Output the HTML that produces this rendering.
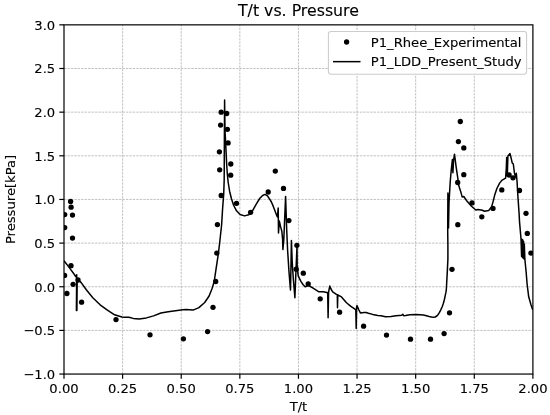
<!DOCTYPE html>
<html><head><meta charset="utf-8"><title>T/t vs. Pressure</title>
<style>
html,body{margin:0;padding:0;background:#fff;}
svg{display:block;}
text{font-family:"DejaVu Sans", "Liberation Sans", sans-serif;fill:#000;stroke:#000;stroke-width:0.12px;}
</style></head>
<body>
<svg width="550" height="415" viewBox="0 0 550 415">
<rect width="550" height="415" fill="#fff"/>
<g stroke="#a8a8a8" stroke-width="0.7" stroke-dasharray="2.4,1.04" fill="none">
<line x1="122.61" y1="374.05" x2="122.61" y2="24.85"/>
<line x1="181.22" y1="374.05" x2="181.22" y2="24.85"/>
<line x1="239.84" y1="374.05" x2="239.84" y2="24.85"/>
<line x1="298.45" y1="374.05" x2="298.45" y2="24.85"/>
<line x1="357.06" y1="374.05" x2="357.06" y2="24.85"/>
<line x1="415.67" y1="374.05" x2="415.67" y2="24.85"/>
<line x1="474.29" y1="374.05" x2="474.29" y2="24.85"/>
<line x1="64.00" y1="330.40" x2="532.90" y2="330.40"/>
<line x1="64.00" y1="286.75" x2="532.90" y2="286.75"/>
<line x1="64.00" y1="243.10" x2="532.90" y2="243.10"/>
<line x1="64.00" y1="199.45" x2="532.90" y2="199.45"/>
<line x1="64.00" y1="155.80" x2="532.90" y2="155.80"/>
<line x1="64.00" y1="112.15" x2="532.90" y2="112.15"/>
<line x1="64.00" y1="68.50" x2="532.90" y2="68.50"/>
</g>
<clipPath id="c"><rect x="64.00" y="24.85" width="468.90" height="349.20"/></clipPath>
<g clip-path="url(#c)">
<g fill="#000">
<circle cx="70.6" cy="201.5" r="2.65"/>
<circle cx="71.1" cy="207.2" r="2.65"/>
<circle cx="64.7" cy="214.6" r="2.65"/>
<circle cx="72.5" cy="215.1" r="2.65"/>
<circle cx="64.7" cy="227.6" r="2.65"/>
<circle cx="72.5" cy="238.1" r="2.65"/>
<circle cx="71.0" cy="265.7" r="2.65"/>
<circle cx="64.6" cy="275.4" r="2.65"/>
<circle cx="73.1" cy="284.3" r="2.65"/>
<circle cx="78.0" cy="280.0" r="2.65"/>
<circle cx="66.9" cy="293.5" r="2.65"/>
<circle cx="81.6" cy="302.2" r="2.65"/>
<circle cx="116.0" cy="319.6" r="2.65"/>
<circle cx="150.0" cy="334.8" r="2.65"/>
<circle cx="183.4" cy="338.8" r="2.65"/>
<circle cx="207.6" cy="331.6" r="2.65"/>
<circle cx="213.0" cy="307.3" r="2.65"/>
<circle cx="215.7" cy="281.5" r="2.65"/>
<circle cx="216.8" cy="253.1" r="2.65"/>
<circle cx="217.4" cy="224.6" r="2.65"/>
<circle cx="221.2" cy="195.5" r="2.65"/>
<circle cx="219.7" cy="169.8" r="2.65"/>
<circle cx="219.4" cy="151.8" r="2.65"/>
<circle cx="220.6" cy="125.1" r="2.65"/>
<circle cx="221.2" cy="112.2" r="2.65"/>
<circle cx="226.7" cy="113.5" r="2.65"/>
<circle cx="227.4" cy="129.3" r="2.65"/>
<circle cx="228.1" cy="142.9" r="2.65"/>
<circle cx="230.8" cy="164.0" r="2.65"/>
<circle cx="230.7" cy="175.2" r="2.65"/>
<circle cx="236.5" cy="203.3" r="2.65"/>
<circle cx="250.6" cy="212.3" r="2.65"/>
<circle cx="268.2" cy="192.0" r="2.65"/>
<circle cx="275.3" cy="171.1" r="2.65"/>
<circle cx="283.5" cy="188.4" r="2.65"/>
<circle cx="288.9" cy="220.6" r="2.65"/>
<circle cx="296.9" cy="245.3" r="2.65"/>
<circle cx="296.2" cy="269.2" r="2.65"/>
<circle cx="303.3" cy="273.2" r="2.65"/>
<circle cx="308.2" cy="283.8" r="2.65"/>
<circle cx="320.2" cy="298.8" r="2.65"/>
<circle cx="339.6" cy="312.2" r="2.65"/>
<circle cx="363.6" cy="326.2" r="2.65"/>
<circle cx="386.5" cy="335.1" r="2.65"/>
<circle cx="410.5" cy="339.2" r="2.65"/>
<circle cx="430.5" cy="339.2" r="2.65"/>
<circle cx="444.1" cy="333.6" r="2.65"/>
<circle cx="449.5" cy="312.8" r="2.65"/>
<circle cx="452.0" cy="269.3" r="2.65"/>
<circle cx="457.8" cy="224.7" r="2.65"/>
<circle cx="457.7" cy="182.5" r="2.65"/>
<circle cx="463.8" cy="174.7" r="2.65"/>
<circle cx="463.8" cy="147.9" r="2.65"/>
<circle cx="458.4" cy="141.6" r="2.65"/>
<circle cx="460.3" cy="121.5" r="2.65"/>
<circle cx="472.0" cy="202.9" r="2.65"/>
<circle cx="481.8" cy="216.8" r="2.65"/>
<circle cx="493.0" cy="208.4" r="2.65"/>
<circle cx="501.8" cy="189.9" r="2.65"/>
<circle cx="509.1" cy="175.0" r="2.65"/>
<circle cx="513.0" cy="177.8" r="2.65"/>
<circle cx="519.5" cy="190.5" r="2.65"/>
<circle cx="526.0" cy="213.3" r="2.65"/>
<circle cx="527.3" cy="233.4" r="2.65"/>
<circle cx="530.9" cy="253.1" r="2.65"/>
</g>
<polyline fill="none" stroke="#000" stroke-width="1.5" stroke-linejoin="round" stroke-linecap="butt" points="64.0,260.8 69.5,267.9 74.0,274.0 75.9,276.8 76.7,274.8 76.4,310.6 76.9,310.6 77.2,278.8 81.2,282.6 86.3,289.8 92.8,297.7 100.1,304.8 107.4,310.2 114.6,314.8 121.9,317.0 124.5,317.3 128.9,317.2 133.3,318.4 139.1,319.1 146.4,317.9 153.6,315.9 160.9,313.0 168.2,311.8 175.5,310.7 182.7,309.8 185.8,309.5 193.1,310.1 198.9,307.6 204.7,302.5 209.1,296.0 212.0,288.7 214.2,281.5 216.1,268.6 218.3,254.1 219.7,242.5 221.6,225.0 222.6,208.6 223.7,194.1 224.2,179.5 224.3,155.0 224.6,100.1 225.0,130.0 226.0,150.0 226.7,165.0 227.3,173.7 228.2,182.5 229.6,191.2 231.4,198.5 233.5,205.0 236.5,210.8 240.1,214.5 244.5,215.9 248.8,214.7 252.5,210.8 256.1,204.3 259.7,198.5 262.6,195.5 265.0,194.4 267.5,195.8 269.8,199.4 271.4,202.0 273.1,205.9 275.8,213.1 277.4,217.0 278.2,208.1 278.5,233.0 279.3,221.0 280.8,227.6 281.8,231.0 282.6,239.1 282.9,249.6 283.8,240.0 285.6,196.5 286.7,230.0 287.6,250.0 289.0,272.0 290.5,290.1 291.0,265.0 291.4,240.4 292.2,262.0 293.4,280.0 294.9,297.7 295.8,275.0 297.0,246.0 297.2,266.0 298.2,275.9 300.9,281.4 303.0,284.5 305.1,286.7 308.7,285.5 313.1,288.2 318.9,291.8 323.3,291.8 326.9,292.5 327.7,293.0 328.1,317.7 328.6,292.0 329.8,286.0 331.0,289.0 332.7,291.8 336.4,294.4 337.3,294.8 337.5,307.8 337.8,295.0 341.5,296.9 346.5,302.7 350.9,306.4 355.3,309.3 355.8,309.6 356.2,328.5 356.6,307.0 357.0,305.6 358.9,310.0 360.4,312.9 364.0,312.5 366.2,312.5 368.4,313.2 372.7,314.4 377.8,315.5 381.0,315.8 385.5,316.7 391.0,316.4 396.0,315.7 401.8,315.2 402.9,314.3 403.7,315.7 405.5,315.5 410.0,314.7 416.0,314.5 420.0,314.7 423.3,315.1 426.5,315.8 429.1,316.5 431.5,317.0 433.5,317.3 435.2,317.0 436.8,316.0 438.2,314.4 439.5,312.3 440.9,309.6 442.2,306.7 443.4,303.2 444.4,299.5 445.8,292.9 446.3,290.0 447.2,273.6 447.9,259.1 447.9,244.5 447.7,230.0 447.9,193.0 448.5,228.0 449.0,203.0 450.2,182.0 451.3,169.5 452.4,159.6 452.9,172.7 453.6,160.0 454.5,154.2 456.2,167.3 457.8,178.2 458.6,185.0 460.5,190.9 462.2,196.9 463.8,196.5 467.1,201.3 471.5,206.2 475.8,210.0 478.0,209.5 482.4,210.3 484.4,211.2 488.7,210.4 491.5,207.1 493.1,201.6 494.7,195.1 496.9,188.5 499.6,183.1 501.8,180.4 505.6,178.2 506.3,168.0 506.7,157.5 507.3,176.0 507.9,156.0 510.0,153.6 511.1,158.0 512.2,162.9 513.3,164.0 514.4,172.7 515.5,177.1 516.3,173.3 517.1,182.0 517.6,191.8 518.2,200.5 519.1,213.6 519.5,221.4 521.0,238.8 521.6,256.5 521.9,239.3 522.5,257.5 522.8,240.0 523.4,258.5 523.6,241.5 524.2,259.0 524.3,244.0 524.9,259.5 526.2,272.7 527.1,284.0 528.7,296.8 530.9,304.5 532.8,309.9"/>
</g>
<g stroke="#000" stroke-width="1.2">
<line x1="64.00" y1="374.05" x2="64.00" y2="378.75"/>
<line x1="122.61" y1="374.05" x2="122.61" y2="378.75"/>
<line x1="181.22" y1="374.05" x2="181.22" y2="378.75"/>
<line x1="239.84" y1="374.05" x2="239.84" y2="378.75"/>
<line x1="298.45" y1="374.05" x2="298.45" y2="378.75"/>
<line x1="357.06" y1="374.05" x2="357.06" y2="378.75"/>
<line x1="415.67" y1="374.05" x2="415.67" y2="378.75"/>
<line x1="474.29" y1="374.05" x2="474.29" y2="378.75"/>
<line x1="532.90" y1="374.05" x2="532.90" y2="378.75"/>
<line x1="64.00" y1="374.05" x2="59.30" y2="374.05"/>
<line x1="64.00" y1="330.40" x2="59.30" y2="330.40"/>
<line x1="64.00" y1="286.75" x2="59.30" y2="286.75"/>
<line x1="64.00" y1="243.10" x2="59.30" y2="243.10"/>
<line x1="64.00" y1="199.45" x2="59.30" y2="199.45"/>
<line x1="64.00" y1="155.80" x2="59.30" y2="155.80"/>
<line x1="64.00" y1="112.15" x2="59.30" y2="112.15"/>
<line x1="64.00" y1="68.50" x2="59.30" y2="68.50"/>
<line x1="64.00" y1="24.85" x2="59.30" y2="24.85"/>
</g>
<rect x="64.00" y="24.85" width="468.90" height="349.20" fill="none" stroke="#000" stroke-width="1.2"/>
<g font-size="13.15">
<text x="64.00" y="393.3" text-anchor="middle">0.00</text>
<text x="122.61" y="393.3" text-anchor="middle">0.25</text>
<text x="181.22" y="393.3" text-anchor="middle">0.50</text>
<text x="239.84" y="393.3" text-anchor="middle">0.75</text>
<text x="298.45" y="393.3" text-anchor="middle">1.00</text>
<text x="357.06" y="393.3" text-anchor="middle">1.25</text>
<text x="415.67" y="393.3" text-anchor="middle">1.50</text>
<text x="474.29" y="393.3" text-anchor="middle">1.75</text>
<text x="532.90" y="393.3" text-anchor="middle">2.00</text>
<text x="55.2" y="378.95" text-anchor="end">−1.0</text>
<text x="55.2" y="335.30" text-anchor="end">−0.5</text>
<text x="55.2" y="291.65" text-anchor="end">0.0</text>
<text x="55.2" y="248.00" text-anchor="end">0.5</text>
<text x="55.2" y="204.35" text-anchor="end">1.0</text>
<text x="55.2" y="160.70" text-anchor="end">1.5</text>
<text x="55.2" y="117.05" text-anchor="end">2.0</text>
<text x="55.2" y="73.40" text-anchor="end">2.5</text>
<text x="55.2" y="29.75" text-anchor="end">3.0</text>
</g>
<text x="298.45" y="411.4" font-size="13.15" text-anchor="middle">T/t</text>
<text transform="translate(14.8,199.45) rotate(-90)" font-size="13.15" text-anchor="middle">Pressure[kPa]</text>
<text x="298.45" y="16.2" font-size="15.75" text-anchor="middle">T/t vs. Pressure</text>
<rect x="328.4" y="31.4" width="198.2" height="42.8" rx="2.6" ry="2.6" fill="#fff" fill-opacity="0.96" stroke="#ccc" stroke-width="1.05"/>
<circle cx="346.6" cy="42" r="2.65" fill="#000"/>
<line x1="333.0" y1="61.65" x2="360.5" y2="61.65" stroke="#000" stroke-width="1.5"/>
<text x="370.8" y="46.5" font-size="13.15">P1_Rhee_Experimental</text>
<text x="370.8" y="66.0" font-size="13.15">P1_LDD_Present_Study</text>
</svg>
</body></html>
